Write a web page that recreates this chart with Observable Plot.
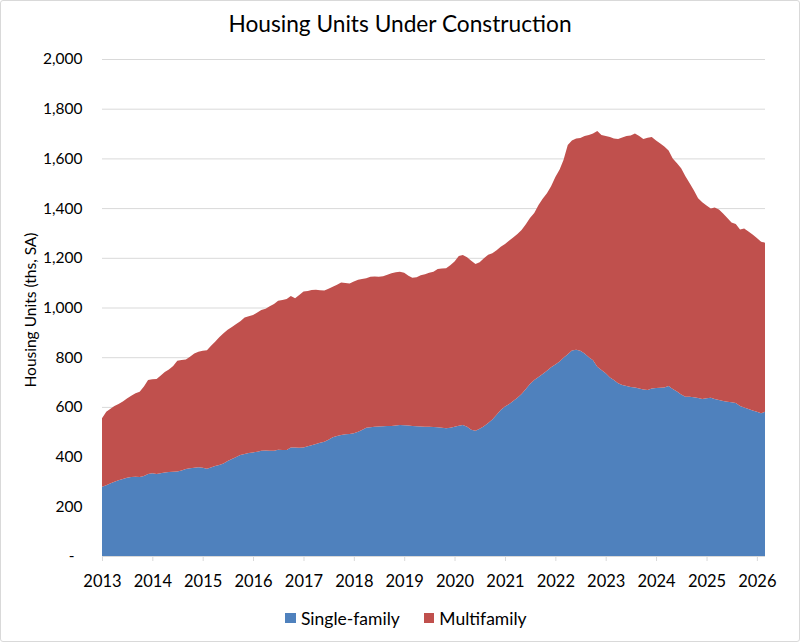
<!DOCTYPE html>
<html><head><meta charset="utf-8">
<script src="https://cdn.jsdelivr.net/npm/d3@7"></script>
<script src="https://cdn.jsdelivr.net/npm/@observablehq/plot@0.6"></script>
<style>
body{margin:0;background:#fff;}
#wrap{position:relative;width:800px;height:642px;font-family:Lato,"Open Sans",sans-serif;color:#000;overflow:hidden;background:#fff}
#border{position:absolute;left:0;top:0;width:800px;height:642px;box-sizing:border-box;border:1px solid #d9d9d9;border-radius:3px;pointer-events:none}
#title{position:absolute;top:10px;left:0;width:100%;text-align:center;font-size:22.7px;}
#chart{position:absolute;top:44px;left:0}
#ylabel{position:absolute;left:30px;top:310px;transform:translate(-50%,-50%) rotate(-90deg);font-size:15.5px;white-space:nowrap}
#legend{position:absolute;top:606px;left:6px;width:100%;display:flex;justify-content:center;gap:24px;font-size:17.5px;align-items:center;height:24px}
.item{display:flex;align-items:center;gap:5px}
.sw{width:10.5px;height:10.5px;display:inline-block}
</style>
</head><body>
<div id="wrap">
<div id="title">Housing Units Under Construction</div>
<div id="chart"></div>
<div id="ylabel">Housing Units (ths, SA)</div>
<div id="legend"></div>
<div id="border"></div>
</div>
<script>
// Monthly data, Jan 2013 – Mar 2026 (thousands of units, SA)
const startYear = 2013, startMonth = 0;
const seriesNames = ["Single-family", "Multifamily"];
const seriesColors = ["#4F81BD", "#C0504D"];
const singleFamily = [
 279,285,292,299,305,310,315,318,319,318,322,330,
 333,330,333,336,338,339,340,344,350,353,355,357,
 355,351,356,362,366,372,382,390,398,406,410,414,
 417,420,424,425,424,424,428,427,427,437,437,436,
 437,442,446,451,456,460,468,478,483,487,490,491,
 494,500,507,516,518,520,521,522,523,523,525,527,
 526,525,523,522,521,520,520,519,518,516,514,516,
 520,524,527,520,508,504,512,522,535,549,568,588,
 602,612,624,637,652,672,692,708,720,732,745,760,
 771,783,798,812,827,830,826,815,800,788,762,748,
 735,718,708,695,688,684,680,678,674,670,668,674,
 676,677,678,684,672,662,650,641,641,639,636,632,
 635,637,632,628,624,621,619,616,604,598,592,586,
 580,574,580
];
const multifamily = [
 275,295,300,305,307,312,319,327,336,343,360,378,
 378,382,392,404,413,426,446,445,441,449,460,465,
 471,477,489,500,514,524,528,532,536,539,550,551,
 553,560,566,570,581,590,599,603,607,609,600,614,
 627,624,624,620,613,608,607,606,609,614,609,606,
 611,612,608,602,606,605,603,604,609,615,617,617,
 614,603,597,600,609,614,620,625,637,641,644,654,
 665,683,684,682,680,671,670,676,677,669,662,656,
 654,658,658,659,660,663,668,672,692,706,715,728,
 754,772,796,842,845,850,856,875,894,912,948,946,
 955,968,972,983,996,1006,1012,1022,1016,1008,1015,1012,
 996,983,970,948,928,918,910,887,859,833,804,792,
 775,761,770,766,754,739,723,720,710,720,714,708,
 700,691,681
];
const yTicks = [0,200,400,600,800,1000,1200,1400,1600,1800,2000];
const xTickYears = [2013,2014,2015,2016,2017,2018,2019,2020,2021,2022,2023,2024,2025,2026];

const monthDate = i => new Date(Date.UTC(startYear, startMonth + i, 1));
const rows = [];
[singleFamily, multifamily].forEach((vals, s) => {
  vals.forEach((v, i) => rows.push({date: monthDate(i), value: v, series: seriesNames[s]}));
});
const lastDate = monthDate(singleFamily.length - 1);
const fmt = d3.format(",");

const chart = Plot.plot({
  width: 800, height: 555,
  marginLeft: 102, marginRight: 35, marginTop: 15, marginBottom: 43,
  x: {type: "utc", domain: [monthDate(0), lastDate]},
  y: {domain: [0, 2000]},
  color: {domain: seriesNames, range: seriesColors},
  style: {fontFamily: "Lato, 'Open Sans', sans-serif", fontSize: "15.5px", color: "#000", background: "#fff"},
  marks: [
    Plot.gridY(yTicks, {stroke: "#d9d9d9", strokeOpacity: 1, strokeWidth: 1}),
    Plot.areaY(rows, {x: "date", y: "value", fill: "series", order: seriesNames, curve: "linear"}),
    Plot.ruleY([0], {stroke: "#d9d9d9"}),
    Plot.axisY(yTicks, {tickSize: 0, tickPadding: 20, fontSize: 15.5, label: null,
      tickFormat: d => d === 0 ? "-\u00a0\u00a0" : fmt(d)}),
    Plot.axisX(xTickYears.map(y => new Date(Date.UTC(y, 0, 1))), {tickSize: 5, tickPadding: 14,
      stroke: "#d9d9d9", strokeOpacity: 1, fontSize: 16.5, label: null, tickFormat: d => String(d.getUTCFullYear())})
  ]
});
document.getElementById("chart").appendChild(chart);

const legend = document.getElementById("legend");
seriesNames.forEach((n, i) => {
  const it = document.createElement("div"); it.className = "item";
  const sw = document.createElement("span"); sw.className = "sw"; sw.style.background = seriesColors[i];
  const t = document.createElement("span"); t.textContent = n;
  it.appendChild(sw); it.appendChild(t); legend.appendChild(it);
});
</script>
</body></html>
